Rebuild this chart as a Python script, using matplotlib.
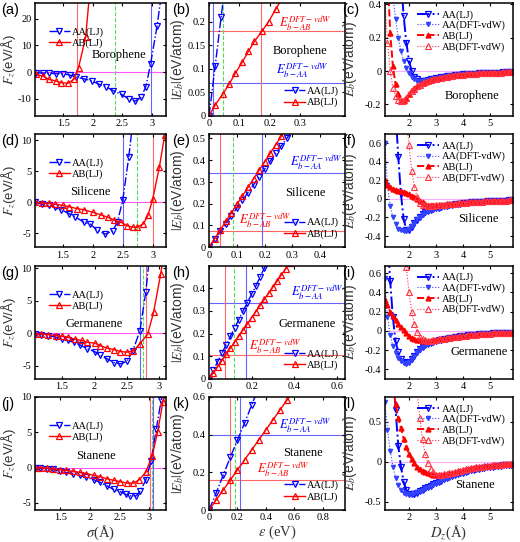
import numpy as np
import matplotlib
matplotlib.use("Agg")
import matplotlib.pyplot as plt
from matplotlib.ticker import FuncFormatter

plt.rcParams['font.family'] = ['Liberation Serif', 'DejaVu Serif']
plt.rcParams['mathtext.fontset'] = 'stix'
plt.rcParams['axes.unicode_minus'] = False

BLUE = '#0000ff'
RED = '#ff0000'

materials = ['Borophene', 'Silicene', 'Germanene', 'Stanene']

# ---------- F_z vs sigma (left column) ----------
a_aa_x = [1.04, 1.15, 1.26, 1.38, 1.49, 1.61, 1.72, 1.86, 1.99, 2.11, 2.23, 2.35, 2.49, 2.62, 2.72, 2.82, 2.9, 2.98, 3.09, 3.17]
a_aa_y = [-0.3, -0.4, -0.5, -0.6, -0.7, -1.1, -1.9, -2.6, -3.4, -4.6, -5.6, -7.0, -8.4, -10.3, -10.9, -9.5, -5.5, 2.9, 17.2, 30]
a_ab_x = [1.04, 1.15, 1.26, 1.38, 1.47, 1.58, 1.68, 1.76, 1.88, 1.95]
a_ab_y = [-0.9, -1.5, -2.75, -3.4, -4.0, -4.25, -2.75, 1.6, 13, 30]

d_aa_x = [1.04, 1.15, 1.26, 1.36, 1.47, 1.6, 1.7, 1.85, 1.96, 2.07, 2.21, 2.33, 2.41, 2.5, 2.6, 2.68]
d_aa_y = [0, -0.27, -0.5, -0.8, -1.2, -1.8, -2.3, -3.2, -3.5, -4.5, -5.1, -4.6, -3.2, 0.4, 7.3, 14]
d_ab_x = [1.04, 1.15, 1.26, 1.37, 1.5, 1.6, 1.73, 1.85, 2.0, 2.13, 2.25, 2.36, 2.47, 2.57, 2.67, 2.74, 2.84, 2.92, 3.0, 3.11, 3.2]
d_ab_y = [0, -0.1, -0.15, -0.3, -0.5, -0.7, -1.0, -1.2, -1.6, -2.0, -2.4, -2.85, -3.2, -3.75, -4.0, -4.0, -3.5, -2.1, 0.5, 5.6, 10.8]

g_aa_x = [1.08, 1.18, 1.29, 1.4, 1.5, 1.59, 1.68, 1.78, 1.89, 2.0, 2.09, 2.19, 2.3, 2.4, 2.5, 2.59, 2.7, 2.79, 2.86]
g_aa_y = [-0.1, -0.2, -0.35, -0.6, -0.9, -1.1, -1.4, -1.8, -2.4, -2.8, -3.4, -3.9, -4.5, -4.7, -4.3, -2.7, 0.4, 6.3, 13]
g_ab_x = [1.08, 1.18, 1.29, 1.4, 1.5, 1.59, 1.7, 1.8, 1.89, 2.0, 2.09, 2.2, 2.3, 2.4, 2.5, 2.6, 2.7, 2.82, 2.91, 3.02, 3.08]
g_ab_y = [-0.1, -0.1, -0.2, -0.35, -0.45, -0.6, -0.9, -1.1, -1.4, -1.5, -1.9, -2.3, -2.5, -2.8, -2.9, -2.7, -1.6, -0.1, 3.2, 9.1, 13]

j_aa_x = [1.08, 1.16, 1.27, 1.38, 1.49, 1.6, 1.72, 1.83, 1.94, 2.06, 2.17, 2.29, 2.4, 2.51, 2.6, 2.68, 2.78, 2.85, 2.94, 3.03, 3.12, 3.2, 3.28]
j_aa_y = [0, -0.1, -0.15, -0.24, -0.5, -0.7, -0.86, -1.1, -1.4, -1.7, -2.1, -2.6, -3.1, -3.4, -3.8, -4.0, -4.0, -3.3, -1.8, 0.95, 5.5, 9.5, 14]
j_ab_x = [1.08, 1.16, 1.27, 1.38, 1.49, 1.6, 1.72, 1.83, 1.94, 2.06, 2.17, 2.29, 2.4, 2.51, 2.63, 2.73, 2.82, 2.94, 3.05, 3.14, 3.23, 3.3]
j_ab_y = [0, 0, -0.1, -0.2, -0.3, -0.4, -0.55, -0.7, -0.85, -1.1, -1.3, -1.6, -1.8, -2.0, -2.2, -2.2, -1.8, -0.7, 1.7, 5.0, 9.3, 13]

# equilibrium sigma lines: (AB, DFT guess, AA)
sigma_lines = [(1.73, 2.37, 2.98), (3.0, 2.74, 2.5), (2.8, 2.75, 2.7), (3.02, 3.04, 3.06)]

# ---------- |E_b| vs epsilon (middle column) ----------
b_aa_x = [0, 0.02, 0.04, 0.06]
b_aa_y = [0, 0.105, 0.21, 0.315]
b_ab_x = [0, 0.02, 0.045, 0.067, 0.087, 0.11, 0.13, 0.15, 0.175, 0.197, 0.22, 0.242]
b_ab_y = [0, 0.023, 0.046, 0.068, 0.091, 0.114, 0.137, 0.158, 0.18, 0.2, 0.226, 0.25]

e_aa_x = [0, 0.02, 0.04, 0.06, 0.08, 0.1, 0.12, 0.14, 0.16, 0.18, 0.2, 0.22, 0.24, 0.26, 0.28, 0.3]
e_aa_y = [0, 0.036, 0.072, 0.107, 0.143, 0.179, 0.215, 0.25, 0.286, 0.322, 0.358, 0.394, 0.43, 0.465, 0.5, 0.537]
e_ab_x = [0, 0.02, 0.04, 0.06, 0.08, 0.1, 0.12, 0.14, 0.16, 0.18, 0.2, 0.22, 0.24, 0.26, 0.28]
e_ab_y = [0, 0.039, 0.078, 0.118, 0.157, 0.196, 0.235, 0.274, 0.314, 0.353, 0.392, 0.431, 0.47, 0.51, 0.55]

h_aa_x = [0, 0.02, 0.04, 0.06, 0.08, 0.1, 0.12, 0.14, 0.16, 0.18, 0.2, 0.22, 0.24, 0.26, 0.28]
h_aa_y = [0, 0.037, 0.075, 0.112, 0.15, 0.187, 0.224, 0.262, 0.3, 0.337, 0.374, 0.41, 0.45, 0.49, 0.52]
h_ab_x = [0, 0.02, 0.04, 0.06, 0.08, 0.1, 0.12, 0.14, 0.16, 0.18, 0.2, 0.22, 0.24, 0.26, 0.28, 0.3, 0.32, 0.34, 0.36, 0.38]
h_ab_y = [0, 0.027, 0.054, 0.081, 0.108, 0.135, 0.162, 0.189, 0.216, 0.243, 0.27, 0.297, 0.324, 0.351, 0.378, 0.405, 0.432, 0.459, 0.486, 0.513]

k_aa_x = [0, 0.05, 0.1, 0.15, 0.2, 0.25, 0.3, 0.35]
k_aa_y = [0, 0.09, 0.185, 0.28, 0.37, 0.46, 0.555, 0.65]
k_ab_x = [0, 0.05, 0.1, 0.15, 0.2, 0.25, 0.3, 0.35, 0.4, 0.45, 0.5, 0.55, 0.6]
k_ab_y = [0, 0.053, 0.106, 0.159, 0.212, 0.265, 0.318, 0.371, 0.424, 0.477, 0.53, 0.583, 0.636]

# DFT-vdW binding energies (AA, AB) and epsilon lines (AA, DFT guess, AB)
eb_dft = [(0.07, 0.18), (0.342, 0.072), (0.333, 0.104), (0.40, 0.16)]
eps_lines = [(0.013, 0.047, 0.17), (0.192, 0.086, 0.039), (0.173, 0.118, 0.076), (0.217, 0.18, 0.15)]

# ---------- E_b vs D_z (right column) ----------
head_x = [1.1, 1.2, 1.3, 1.4, 1.5, 1.6, 1.7, 1.8, 1.9, 2.0, 2.1, 2.2, 2.3, 2.4, 2.5, 2.6, 2.7, 2.8, 2.9]
tail_x = [3.0, 3.1, 3.2, 3.3, 3.4, 3.5, 3.6, 3.7, 3.8, 3.9, 4.0, 4.1, 4.2, 4.3, 4.4, 4.5, 4.6, 4.7, 4.8, 4.9,
          5.0, 5.1, 5.2, 5.3, 5.4, 5.5, 5.6, 5.7, 5.8]

c_aa_lj = [0.55, 0.33, 0.17, 0.06, 0.0, -0.035, -0.05, -0.058, -0.06, -0.057, -0.053, -0.049, -0.045]
c_aa_dft = [0.46, 0.31, 0.2, 0.12, 0.06, 0.02, -0.01, -0.035, -0.05, -0.058, -0.06, -0.059, -0.056, -0.052, -0.048, -0.045]
c_ab_lj = [0.6, 0.23, 0.03, -0.08, -0.14, -0.175, -0.18, -0.165, -0.14, -0.115, -0.1, -0.09, -0.08, -0.072, -0.065, -0.059, -0.054, -0.05]
c_ab_dft = [0.45, 0.17, 0.0, -0.1, -0.15, -0.175, -0.18, -0.175, -0.16, -0.14, -0.12, -0.105, -0.092, -0.082, -0.073, -0.066, -0.06, -0.055, -0.05]
c_aa_tail = [-0.042, -0.039, -0.036, -0.034, -0.031, -0.029, -0.027, -0.025, -0.023, -0.022, -0.020, -0.019, -0.018, -0.017, -0.016,
             -0.015, -0.014, -0.013, -0.012, -0.012, -0.011, -0.010, -0.010, -0.009, -0.009, -0.008, -0.008, -0.007, -0.007]
c_ab_tail = [-0.046, -0.042, -0.039, -0.036, -0.033, -0.030, -0.028, -0.026, -0.024, -0.022, -0.021, -0.019, -0.018, -0.017, -0.016,
             -0.015, -0.014, -0.013, -0.012, -0.012, -0.011, -0.010, -0.010, -0.009, -0.009, -0.008, -0.008, -0.007, -0.007]

f_aa_lj = [0.95, 0.45, 0.05, -0.22, -0.33, -0.335, -0.3, -0.26, -0.225, -0.19, -0.165, -0.145, -0.13, -0.117, -0.107]
f_aa_dft = [0.6, 0.15, -0.08, -0.2, -0.27, -0.32, -0.34, -0.35, -0.34, -0.32, -0.29, -0.255, -0.22, -0.19, -0.165, -0.145, -0.13, -0.117, -0.107]
f_ab_lj = [0.2, 0.15, 0.13, 0.11, 0.1, 0.09, 0.085, 0.075, 0.065, 0.05, 0.035, 0.018, 0.0, -0.02, -0.038, -0.052, -0.062, -0.068, -0.07]
f_ab_dft = [0.85, 0.58, 0.3, 0.13, 0.02, -0.04, -0.062, -0.07, -0.073, -0.073, -0.072]
f_aa_tail = [-0.100, -0.093, -0.086, -0.080, -0.074, -0.069, -0.064, -0.060, -0.056, -0.052, -0.048, -0.045, -0.042, -0.039, -0.037,
             -0.035, -0.033, -0.031, -0.029, -0.027, -0.025, -0.024, -0.023, -0.021, -0.020, -0.019, -0.018, -0.017, -0.016]
f_ab_tail = [-0.070, -0.067, -0.064, -0.061, -0.058, -0.055, -0.052, -0.050, -0.047, -0.045, -0.042, -0.040, -0.038, -0.036, -0.034,
             -0.032, -0.031, -0.029, -0.028, -0.026, -0.025, -0.024, -0.022, -0.021, -0.020, -0.019, -0.018, -0.017, -0.016]

i_aa_lj = [1.0, 0.52, 0.14, -0.11, -0.22, -0.29, -0.325, -0.33, -0.32, -0.295, -0.26, -0.225, -0.19, -0.165, -0.15, -0.135, -0.123, -0.115]
i_aa_dft = [0.55, 0.14, -0.04, -0.16, -0.23, -0.28, -0.31, -0.33, -0.33, -0.32, -0.295, -0.26, -0.225, -0.19, -0.165, -0.15, -0.135, -0.123, -0.115]
i_ab_lj = [0.32, 0.27, 0.2, 0.15, 0.11, 0.07, 0.04, 0.01, -0.025, -0.055, -0.075, -0.088, -0.095, -0.1, -0.103, -0.105, -0.105, -0.103, -0.1]
i_ab_dft = [0.95, 0.66, 0.4, 0.2, 0.075, -0.01, -0.065, -0.09, -0.1, -0.105, -0.104, -0.1]
i_aa_tail = [-0.108, -0.100, -0.093, -0.086, -0.080, -0.075, -0.070, -0.065, -0.061, -0.057, -0.053, -0.050, -0.047, -0.044, -0.041,
             -0.039, -0.037, -0.035, -0.033, -0.031, -0.029, -0.027, -0.026, -0.024, -0.023, -0.022, -0.021, -0.020, -0.019]
i_ab_tail = [-0.095, -0.090, -0.085, -0.080, -0.075, -0.071, -0.067, -0.063, -0.059, -0.056, -0.052, -0.049, -0.046, -0.044, -0.041,
             -0.039, -0.037, -0.035, -0.033, -0.031, -0.029, -0.027, -0.026, -0.024, -0.023, -0.022, -0.021, -0.020, -0.019]

l_aa_lj = [1.3, 0.65, 0.2, -0.06, -0.25, -0.35, -0.395, -0.405, -0.4, -0.385, -0.365, -0.345, -0.33, -0.31, -0.295, -0.28]
l_aa_dft = [0.75, 0.4, 0.14, -0.06, -0.2, -0.29, -0.35, -0.385, -0.4, -0.405, -0.4, -0.39, -0.375, -0.36, -0.345, -0.33, -0.31, -0.295, -0.28]
l_ab_lj = [0.95, 0.72, 0.55, 0.42, 0.29, 0.18, 0.1, 0.03, -0.02, -0.065, -0.09, -0.11, -0.13, -0.143, -0.153, -0.158]
l_ab_dft = [1.4, 0.9, 0.55, 0.28, 0.1, -0.02, -0.09, -0.13]
l_aa_tail = [-0.265, -0.250, -0.235, -0.220, -0.206, -0.192, -0.179, -0.167, -0.155, -0.144, -0.134, -0.124, -0.115, -0.107, -0.099,
             -0.092, -0.085, -0.079, -0.073, -0.068, -0.063, -0.059, -0.055, -0.051, -0.048, -0.045, -0.042, -0.039, -0.037]
l_ab_tail = [-0.160, -0.162, -0.160, -0.155, -0.149, -0.142, -0.134, -0.126, -0.118, -0.110, -0.102, -0.095, -0.088, -0.081, -0.075,
             -0.069, -0.064, -0.059, -0.055, -0.051, -0.047, -0.044, -0.041, -0.038, -0.035, -0.033, -0.031, -0.029, -0.027]


def series(head, tail):
    x = head_x[len(head_x) - len(head):] + tail_x
    return x, list(head) + list(tail)


fmt = FuncFormatter(lambda v, p: '%g' % round(v, 6))


def style(ax, xlim, ylim, xticks, yticks):
    ax.set_xlim(xlim)
    ax.set_ylim(ylim)
    ax.set_xticks(xticks)
    ax.set_yticks(yticks)
    ax.xaxis.set_major_formatter(fmt)
    ax.yaxis.set_major_formatter(fmt)
    ax.tick_params(direction='in', length=2.5, width=0.8, labelsize=7.5, top=True, right=True, pad=2.5)
    for s in ax.spines.values():
        s.set_linewidth(1.1)


def ylab(ax, text, xpos, size=10):
    # xpos is where the right side of the rotated label sits
    ax.set_ylabel(text, fontsize=size, color='#333333', family='Liberation Sans')
    ax.yaxis.set_label_coords(xpos, 0.5)


def panel_tag(ax, tag, xpos):
    ax.text(xpos, 1.0, tag, transform=ax.transAxes, ha='left', va='top',
            fontsize=10.5, family='Liberation Sans')


fig = plt.figure(figsize=(5.2, 5.42), dpi=100)
col_left = [0.067, 0.402, 0.740]
col_w = [0.252, 0.262, 0.246]
row_bottom = [0.786, 0.544, 0.301, 0.059]
row_h = 0.209

force_data = [(a_aa_x, a_aa_y, a_ab_x, a_ab_y), (d_aa_x, d_aa_y, d_ab_x, d_ab_y),
              (g_aa_x, g_aa_y, g_ab_x, g_ab_y), (j_aa_x, j_aa_y, j_ab_x, j_ab_y)]
force_xlim = [(1.02, 3.24), (1.03, 3.22), (1.08, 3.1), (1.07, 3.28)]
force_ylim = [(-16.5, 26), (-7.2, 11), (-7, 10.4), (-6, 10)]
force_yticks = [[-10, 0, 10, 20], [-5, 0, 5, 10], [-5, 0, 5, 10], [-5, 0, 5, 10]]
force_name_xy = [(2.45, 6.5), (1.95, 1.7), (2.0, 1.5), (2.1, 1.7)]

eps_data = [(b_aa_x, b_aa_y, b_ab_x, b_ab_y), (e_aa_x, e_aa_y, e_ab_x, e_ab_y),
            (h_aa_x, h_aa_y, h_ab_x, h_ab_y), (k_aa_x, k_aa_y, k_ab_x, k_ab_y)]
eps_xlim = [(0, 0.45), (0, 0.49), (0, 0.64), (0, 0.96)]
eps_ylim = [(0, 0.24), (0, 0.52), (0, 0.5), (0, 0.6)]
eps_xticks = [[0, 0.1, 0.2, 0.3], [0, 0.1, 0.2, 0.3, 0.4], [0, 0.2, 0.4, 0.6], [0, 0.2, 0.4, 0.6, 0.8]]
eps_yticks = [[0, 0.05, 0.1, 0.15, 0.2], [0, 0.1, 0.2, 0.3, 0.4, 0.5], [0, 0.1, 0.2, 0.3, 0.4], [0, 0.2, 0.4, 0.6]]
eps_name_xy = [(0.3, 0.137), (0.345, 0.25), (0.46, 0.24), (0.66, 0.3)]
eps_aa_lab = [(0.22, 0.096), (0.29, 0.39), (0.385, 0.382), (0.49, 0.45)]
eps_ab_lab = [(0.23, 0.196), (0.107, 0.125), (0.19, 0.145), (0.34, 0.218)]

en_data = [(c_aa_lj, c_aa_dft, c_ab_lj, c_ab_dft, c_aa_tail, c_ab_tail),
           (f_aa_lj, f_aa_dft, f_ab_lj, f_ab_dft, f_aa_tail, f_ab_tail),
           (i_aa_lj, i_aa_dft, i_ab_lj, i_ab_dft, i_aa_tail, i_ab_tail),
           (l_aa_lj, l_aa_dft, l_ab_lj, l_ab_dft, l_aa_tail, l_ab_tail)]
en_ylim = [(-0.27, 0.41), (-0.52, 0.7), (-0.5, 0.68), (-0.6, 0.81)]
en_yticks = [[-0.2, 0, 0.2, 0.4], [-0.4, -0.2, 0, 0.2, 0.4, 0.6], [-0.4, -0.2, 0, 0.2, 0.4, 0.6], [-0.5, 0, 0.5]]
en_name_xy = [(4.35, -0.15), (4.58, -0.22), (4.6, -0.22), (4.46, -0.29)]

tags = [['(a)', '(b)', '(c)'], ['(d)', '(e)', '(f)'], ['(g)', '(h)', '(i)'], ['(j)', '(k)', '(l)']]

for r in range(4):
    # ----- force panel -----
    ax = fig.add_axes([col_left[0], row_bottom[r], col_w[0], row_h])
    aa_x, aa_y, ab_x, ab_y = force_data[r]
    s_ab, s_dft, s_aa = sigma_lines[r]
    ax.axhline(0, color='#ff55ff', lw=0.8, zorder=1)
    ax.axvline(s_ab, color='#ff6666', lw=0.8, zorder=1)
    ax.axvline(s_dft, color='#55dd55', lw=0.8, ls='--', zorder=1)
    ax.axvline(s_aa, color='#6666ff', lw=0.8, zorder=1)
    ax.plot(aa_x, aa_y, '-.', color=BLUE, lw=1.0, marker='v', ms=4, mfc='none', mew=0.9, label='AA(LJ)')
    ax.plot(ab_x, ab_y, '-', color=RED, lw=1.0, marker='^', ms=4, mfc='none', mew=0.9, label='AB(LJ)')
    style(ax, force_xlim[r], force_ylim[r], [1.5, 2, 2.5, 3], force_yticks[r])
    ax.text(*force_name_xy[r], materials[r], fontsize=9, ha='center', va='center')
    ax.legend(loc='upper left', bbox_to_anchor=(0.06, 0.84), frameon=False, fontsize=7.5,
              handlelength=2.0, handletextpad=0.2, labelspacing=0.15, borderpad=0.1)
    ylab(ax, '$F_z$(eV/Å)', -0.125, size=9.5)
    panel_tag(ax, tags[r][0], -0.255)
    if r == 3:
        ax.set_xlabel('$\\sigma$(Å)', fontsize=10.5, color='#333333', labelpad=1)

    # ----- |E_b| vs epsilon panel -----
    ax = fig.add_axes([col_left[1], row_bottom[r], col_w[1], row_h])
    aa_x, aa_y, ab_x, ab_y = eps_data[r]
    eb_aa, eb_ab = eb_dft[r]
    e_aa, e_dft, e_ab = eps_lines[r]
    ax.axhline(eb_aa, color='#6666ff', lw=0.8, zorder=1)
    ax.axhline(eb_ab, color='#ff6666', lw=0.8, zorder=1)
    ax.axvline(e_aa, color='#6666ff', lw=0.8, zorder=1)
    ax.axvline(e_dft, color='#55dd55', lw=0.8, ls='--', zorder=1)
    ax.axvline(e_ab, color='#ff6666', lw=0.8, zorder=1)
    ax.plot(aa_x, aa_y, '-.', color=BLUE, lw=1.0, marker='v', ms=4, mfc='none', mew=0.9, label='AA(LJ)')
    ax.plot(ab_x, ab_y, '-', color=RED, lw=1.0, marker='^', ms=4, mfc='none', mew=0.9, label='AB(LJ)')
    style(ax, eps_xlim[r], eps_ylim[r], eps_xticks[r], eps_yticks[r])
    ax.text(*eps_name_xy[r], materials[r], fontsize=9, ha='center', va='center')
    ax.text(*eps_aa_lab[r], '$E_{b-AA}^{DFT-vdW}$', color=BLUE, fontsize=9, ha='left', va='center')
    ax.text(*eps_ab_lab[r], '$E_{b-AB}^{DFT-vdW}$', color=RED, fontsize=9, ha='left', va='center')
    ax.legend(loc='lower right', bbox_to_anchor=(1.0, 0.02), frameon=False, fontsize=7.5,
              handlelength=2.0, handletextpad=0.2, labelspacing=0.15, borderpad=0.1)
    ylab(ax, '$|E_b|$(eV/atom)', -0.162)
    panel_tag(ax, tags[r][1], -0.27)
    if r == 3:
        ax.set_xlabel('$\\epsilon$ (eV)', fontsize=10.5, color='#333333', labelpad=1)

    # ----- E_b vs D_z panel -----
    ax = fig.add_axes([col_left[2], row_bottom[r], col_w[2], row_h])
    aa_lj, aa_dft, ab_lj, ab_dft, aa_tail, ab_tail = en_data[r]
    ax.axhline(0, color='#ffaaff', lw=0.8, zorder=1)
    ax.plot(*series(aa_lj, aa_tail), '-.', color=BLUE, lw=1.4, marker='v', ms=4, mfc='none', mew=0.9,
            label='AA(LJ)')
    ax.plot(*series(aa_dft, aa_tail), ':', color='#3344ff', lw=0.8, marker='v', ms=3, label='AA(DFT-vdW)')
    ax.plot(*series(ab_lj, ab_tail), '--', color=RED, lw=1.4, marker='^', ms=3.5, label='AB(LJ)')
    ax.plot(*series(ab_dft, ab_tail), ':', color='#ff3344', lw=0.8, marker='^', ms=4, mfc='none', mew=0.8,
            label='AB(DFT-vdW)')
    style(ax, (1.1, 5.85), en_ylim[r], [2, 3, 4, 5], en_yticks[r])
    ax.text(*en_name_xy[r], materials[r], fontsize=9, ha='center', va='center')
    ax.legend(loc='upper right', bbox_to_anchor=(1.0, 1.0), frameon=False, fontsize=7.5,
              handlelength=2.2, handletextpad=0.2, labelspacing=0.1, borderpad=0.2)
    ylab(ax, '$E_b$(eV/atom)', -0.2)
    panel_tag(ax, tags[r][2], -0.33)
    if r == 3:
        ax.set_xlabel('$D_z$(Å)', fontsize=10.5, color='#333333', labelpad=1)

fig.savefig('out.png', dpi=100)
